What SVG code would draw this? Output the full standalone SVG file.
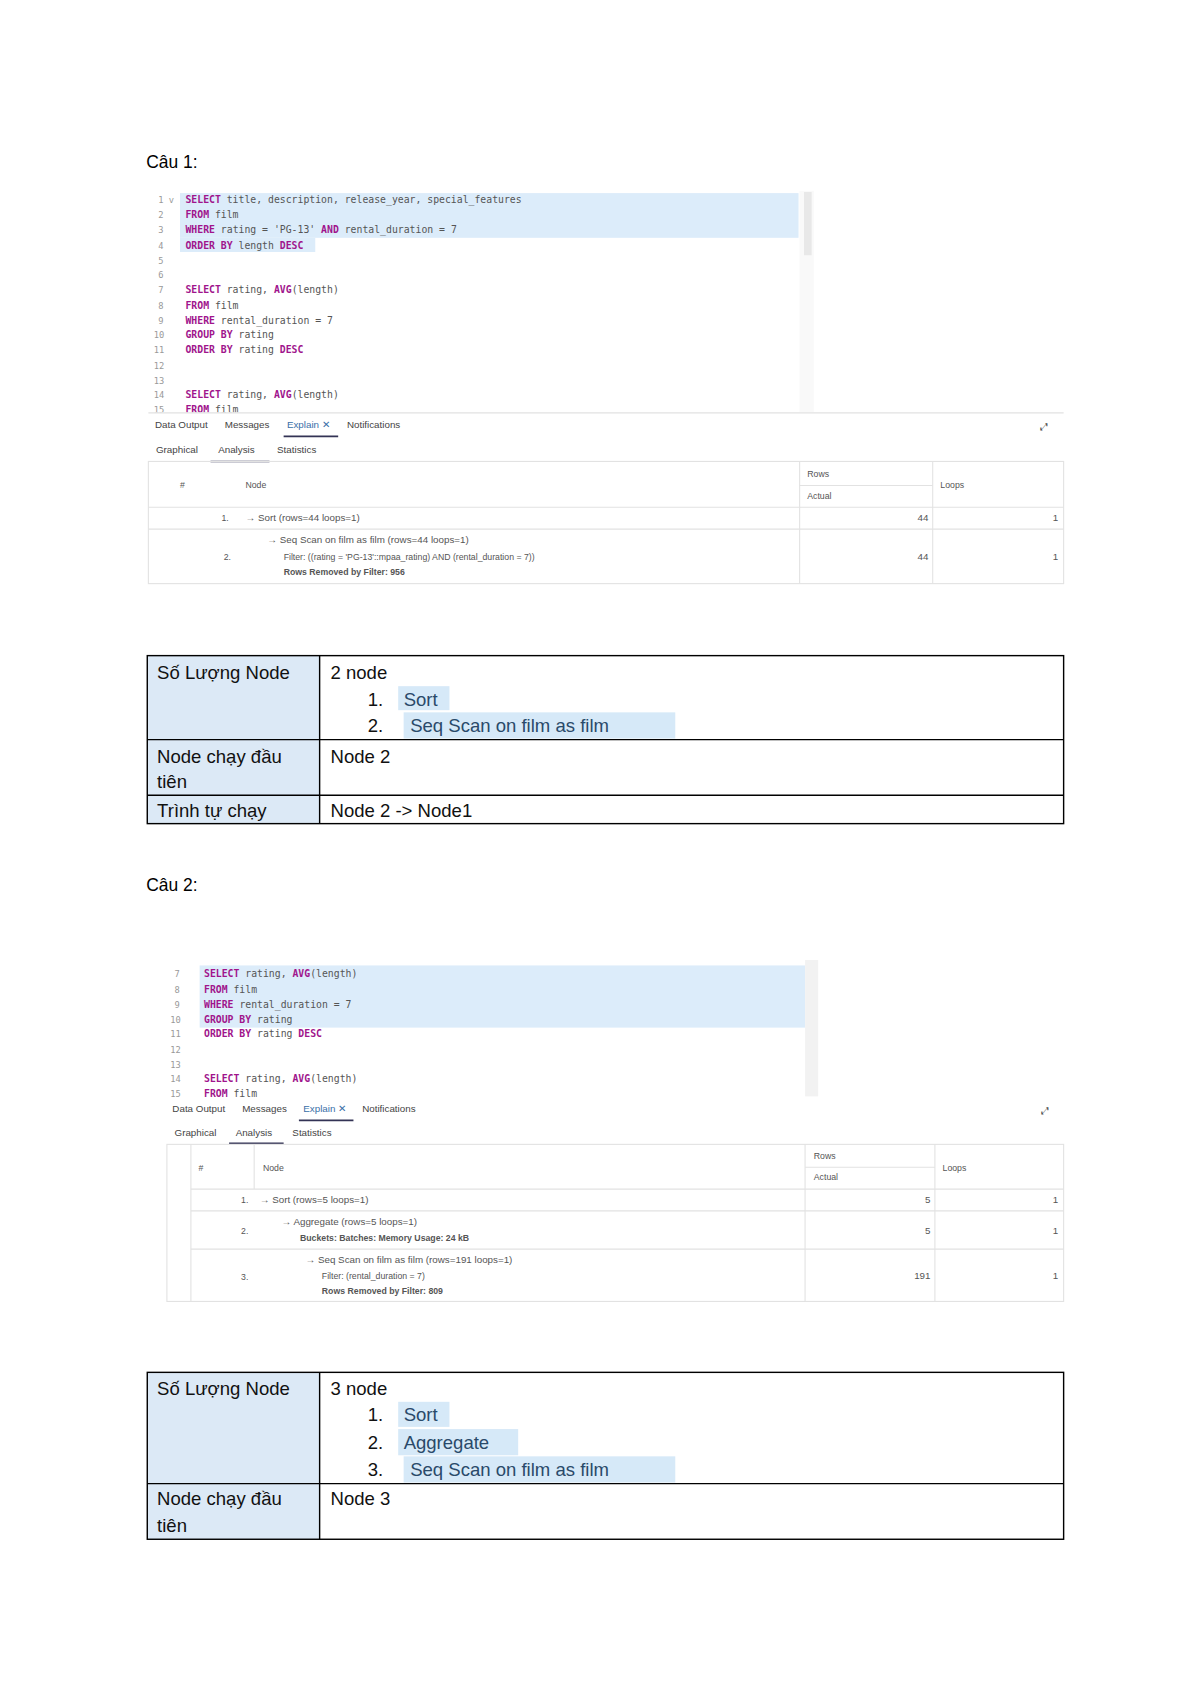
<svg xmlns="http://www.w3.org/2000/svg" width="1200" height="1696" viewBox="0 0 1200 1696">
<style>
.t{font-family:"Liberation Sans",Arial,sans-serif;fill:#000}
.h{font-size:16px}
.c{font-family:"DejaVu Sans Mono","Liberation Mono",monospace;font-size:9px;fill:#555}
.k{fill:#a0148c;font-weight:bold}
.ln{font-family:"DejaVu Sans Mono",monospace;font-size:8px;fill:#999}
.s{font-family:"Liberation Sans",Arial,sans-serif;font-size:9px;fill:#444}
.sm{font-family:"Liberation Sans",Arial,sans-serif;font-size:8px;fill:#555}
.g{stroke:#e2e2e2;stroke-width:1;fill:none}
.tb{font-family:"Liberation Sans",Arial,sans-serif;font-size:17px;fill:#111}
.hl{fill:#d6e9f8}
.bd{stroke:#000;stroke-width:1.3;fill:none}
</style>
<rect width="1200" height="1696" fill="#fff"/>
<g transform="scale(1.0909)">
<text class="t h" x="134" y="154">Câu 1:</text>
<g id="code1">
<rect x="136" y="175" width="610" height="203" fill="#fff"/>
<rect x="165" y="177" width="567" height="41" fill="#dcecfa"/>
<rect x="165" y="218" width="124" height="13" fill="#dcecfa"/>
<rect x="737" y="176" width="7" height="58" fill="#ddd"/>
<rect x="733" y="175" width="13" height="203" fill="#f4f4f4" opacity="0.5"/>
<g class="ln"><text x="145" y="186">1 v</text><text x="145" y="200">2</text><text x="145" y="214">3</text><text x="145" y="228">4</text><text x="145" y="242">5</text><text x="145" y="255">6</text><text x="145" y="269">7</text><text x="145" y="283">8</text><text x="145" y="297">9</text><text x="141" y="310">10</text><text x="141" y="324">11</text><text x="141" y="338">12</text><text x="141" y="352">13</text><text x="141" y="365">14</text><text x="141" y="379">15</text></g>
<g class="c">
<text x="170" y="186"><tspan class="k">SELECT</tspan> title, description, release_year, special_features</text>
<text x="170" y="200"><tspan class="k">FROM</tspan> film</text>
<text x="170" y="214"><tspan class="k">WHERE</tspan> rating = 'PG-13' <tspan class="k">AND</tspan> rental_duration = 7</text>
<text x="170" y="228"><tspan class="k">ORDER BY</tspan> length <tspan class="k">DESC</tspan></text>
<text x="170" y="269"><tspan class="k">SELECT</tspan> rating, <tspan class="k">AVG</tspan>(length)</text>
<text x="170" y="283"><tspan class="k">FROM</tspan> film</text>
<text x="170" y="297"><tspan class="k">WHERE</tspan> rental_duration = 7</text>
<text x="170" y="310"><tspan class="k">GROUP BY</tspan> rating</text>
<text x="170" y="324"><tspan class="k">ORDER BY</tspan> rating <tspan class="k">DESC</tspan></text>
<text x="170" y="365"><tspan class="k">SELECT</tspan> rating, <tspan class="k">AVG</tspan>(length)</text>
<text x="170" y="379"><tspan class="k">FROM</tspan> film</text>
</g>
</g>
<g id="explain1">
<rect x="136" y="378" width="839" height="160" fill="#fff"/>
<line x1="136" y1="378.5" x2="975" y2="378.5" class="g"/>
<g class="s"><text x="142" y="392">Data Output</text><text x="206" y="392">Messages</text><text x="263" y="392" fill="#3a6fa8">Explain ✕</text><text x="318" y="392">Notifications</text>
<text x="143" y="415">Graphical</text><text x="200" y="415">Analysis</text><text x="254" y="415">Statistics</text></g>
<text x="953" y="394" class="s">⤢</text>
<line x1="260" y1="400" x2="310" y2="400" stroke="#335" stroke-width="1.5"/>
<line x1="193" y1="423" x2="247" y2="423" stroke="#335" stroke-width="1.5"/>
<rect x="136" y="423" width="839" height="112" class="g"/>
<line x1="136" y1="465" x2="975" y2="465" class="g"/><line x1="136" y1="485" x2="975" y2="485" class="g"/>
<line x1="733" y1="445" x2="855" y2="445" class="g"/>
<line x1="733" y1="423" x2="733" y2="535" class="g"/><line x1="855" y1="423" x2="855" y2="535" class="g"/>
<g class="sm"><text x="165" y="447">#</text><text x="225" y="447">Node</text><text x="740" y="437">Rows</text><text x="740" y="457">Actual</text><text x="862" y="447">Loops</text>
<text x="203" y="478">1.</text><text x="225" y="478" font-size="9">→ Sort (rows=44 loops=1)</text>
<text x="205" y="513">2.</text><text x="245" y="498" font-size="9">→ Seq Scan on film as film (rows=44 loops=1)</text>
<text x="260" y="513">Filter: ((rating = 'PG-13'::mpaa_rating) AND (rental_duration = 7))</text>
<text x="260" y="527" font-weight="bold">Rows Removed by Filter: 956</text>
<text x="851" y="478" text-anchor="end" font-size="9">44</text><text x="851" y="513" text-anchor="end" font-size="9">44</text>
<text x="970" y="478" text-anchor="end" font-size="9">1</text><text x="970" y="513" text-anchor="end" font-size="9">1</text></g>
</g>
<g id="table1">
<rect x="135" y="601" width="158" height="154" fill="#dce9f6"/>
<rect x="365" y="629" width="47" height="22" class="hl"/>
<rect x="370" y="653" width="249" height="24" class="hl"/>
<rect x="135" y="601" width="840" height="154" class="bd"/>
<line x1="293" y1="601" x2="293" y2="755" class="bd"/>
<line x1="135" y1="678" x2="975" y2="678" class="bd"/><line x1="135" y1="729" x2="975" y2="729" class="bd"/>
<g class="tb"><text x="144" y="622">Số Lượng Node</text><text x="303" y="622">2 node</text>
<text x="337" y="647">1.</text><text x="370" y="647" fill="#2a4a6a">Sort</text>
<text x="337" y="671">2.</text><text x="376" y="671" fill="#2a4a6a">Seq Scan on film as film</text>
<text x="144" y="699">Node chạy đầu</text><text x="144" y="722">tiên</text><text x="303" y="699">Node 2</text>
<text x="144" y="749">Trình tự chạy</text><text x="303" y="749">Node 2 -&gt; Node1</text></g>
</g>
<text class="t h" x="134" y="817">Câu 2:</text>
<g id="code2">
<rect x="183" y="885" width="555" height="57" fill="#dcecfa"/>
<rect x="738" y="880" width="12" height="125" fill="#f2f2f2"/>
<g class="ln"><text x="160" y="896">7</text><text x="160" y="910">8</text><text x="160" y="924">9</text><text x="156" y="938">10</text><text x="156" y="951">11</text><text x="156" y="965">12</text><text x="156" y="979">13</text><text x="156" y="992">14</text><text x="156" y="1006">15</text></g>
<g class="c">
<text x="187" y="896"><tspan class="k">SELECT</tspan> rating, <tspan class="k">AVG</tspan>(length)</text>
<text x="187" y="910"><tspan class="k">FROM</tspan> film</text>
<text x="187" y="924"><tspan class="k">WHERE</tspan> rental_duration = 7</text>
<text x="187" y="938"><tspan class="k">GROUP BY</tspan> rating</text>
<text x="187" y="951"><tspan class="k">ORDER BY</tspan> rating <tspan class="k">DESC</tspan></text>
<text x="187" y="992"><tspan class="k">SELECT</tspan> rating, <tspan class="k">AVG</tspan>(length)</text>
<text x="187" y="1006"><tspan class="k">FROM</tspan> film</text>
</g>
</g>
<g id="explain2">
<rect x="153" y="1006" width="822" height="190" fill="#fff"/>
<g class="s"><text x="158" y="1019">Data Output</text><text x="222" y="1019">Messages</text><text x="278" y="1019" fill="#3a6fa8">Explain ✕</text><text x="332" y="1019">Notifications</text>
<text x="160" y="1041">Graphical</text><text x="216" y="1041">Analysis</text><text x="268" y="1041">Statistics</text></g>
<text x="954" y="1021" class="s">⤢</text>
<line x1="274" y1="1027" x2="324" y2="1027" stroke="#335" stroke-width="1.5"/>
<line x1="210" y1="1048" x2="260" y2="1048" stroke="#335" stroke-width="1.5"/>
<rect x="153" y="1049" width="822" height="144" class="g"/>
<line x1="175" y1="1049" x2="175" y2="1193" class="g"/>
<line x1="233" y1="1049" x2="233" y2="1090" class="g"/>
<line x1="175" y1="1090" x2="975" y2="1090" class="g"/><line x1="175" y1="1110" x2="975" y2="1110" class="g"/><line x1="175" y1="1145" x2="975" y2="1145" class="g"/>
<line x1="738" y1="1070" x2="857" y2="1070" class="g"/>
<line x1="738" y1="1049" x2="738" y2="1193" class="g"/><line x1="857" y1="1049" x2="857" y2="1193" class="g"/>
<g class="sm"><text x="182" y="1073">#</text><text x="241" y="1073">Node</text><text x="746" y="1062">Rows</text><text x="746" y="1082">Actual</text><text x="864" y="1073">Loops</text>
<text x="221" y="1103">1.</text><text x="238" y="1103" font-size="9">→ Sort (rows=5 loops=1)</text>
<text x="221" y="1131">2.</text><text x="258" y="1123" font-size="9">→ Aggregate (rows=5 loops=1)</text>
<text x="275" y="1138" font-weight="bold">Buckets: Batches: Memory Usage: 24 kB</text>
<text x="221" y="1173">3.</text><text x="280" y="1158" font-size="9">→ Seq Scan on film as film (rows=191 loops=1)</text>
<text x="295" y="1172">Filter: (rental_duration = 7)</text>
<text x="295" y="1186" font-weight="bold">Rows Removed by Filter: 809</text>
<text x="853" y="1103" text-anchor="end" font-size="9">5</text><text x="853" y="1131" text-anchor="end" font-size="9">5</text><text x="853" y="1172" text-anchor="end" font-size="9">191</text>
<text x="970" y="1103" text-anchor="end" font-size="9">1</text><text x="970" y="1131" text-anchor="end" font-size="9">1</text><text x="970" y="1172" text-anchor="end" font-size="9">1</text></g>
</g>
<g id="table2">
<rect x="135" y="1258" width="158" height="153" fill="#dce9f6"/>
<rect x="365" y="1285" width="47" height="23" class="hl"/>
<rect x="365" y="1310" width="110" height="24" class="hl"/>
<rect x="370" y="1335" width="249" height="24" class="hl"/>
<rect x="135" y="1258" width="840" height="153" class="bd"/>
<line x1="293" y1="1258" x2="293" y2="1411" class="bd"/>
<line x1="135" y1="1360" x2="975" y2="1360" class="bd"/>
<g class="tb"><text x="144" y="1279">Số Lượng Node</text><text x="303" y="1279">3 node</text>
<text x="337" y="1303">1.</text><text x="370" y="1303" fill="#2a4a6a">Sort</text>
<text x="337" y="1328">2.</text><text x="370" y="1328" fill="#2a4a6a">Aggregate</text>
<text x="337" y="1353">3.</text><text x="376" y="1353" fill="#2a4a6a">Seq Scan on film as film</text>
<text x="144" y="1380">Node chạy đầu</text><text x="144" y="1404">tiên</text><text x="303" y="1380">Node 3</text></g>
</g>
</g>
</svg>
